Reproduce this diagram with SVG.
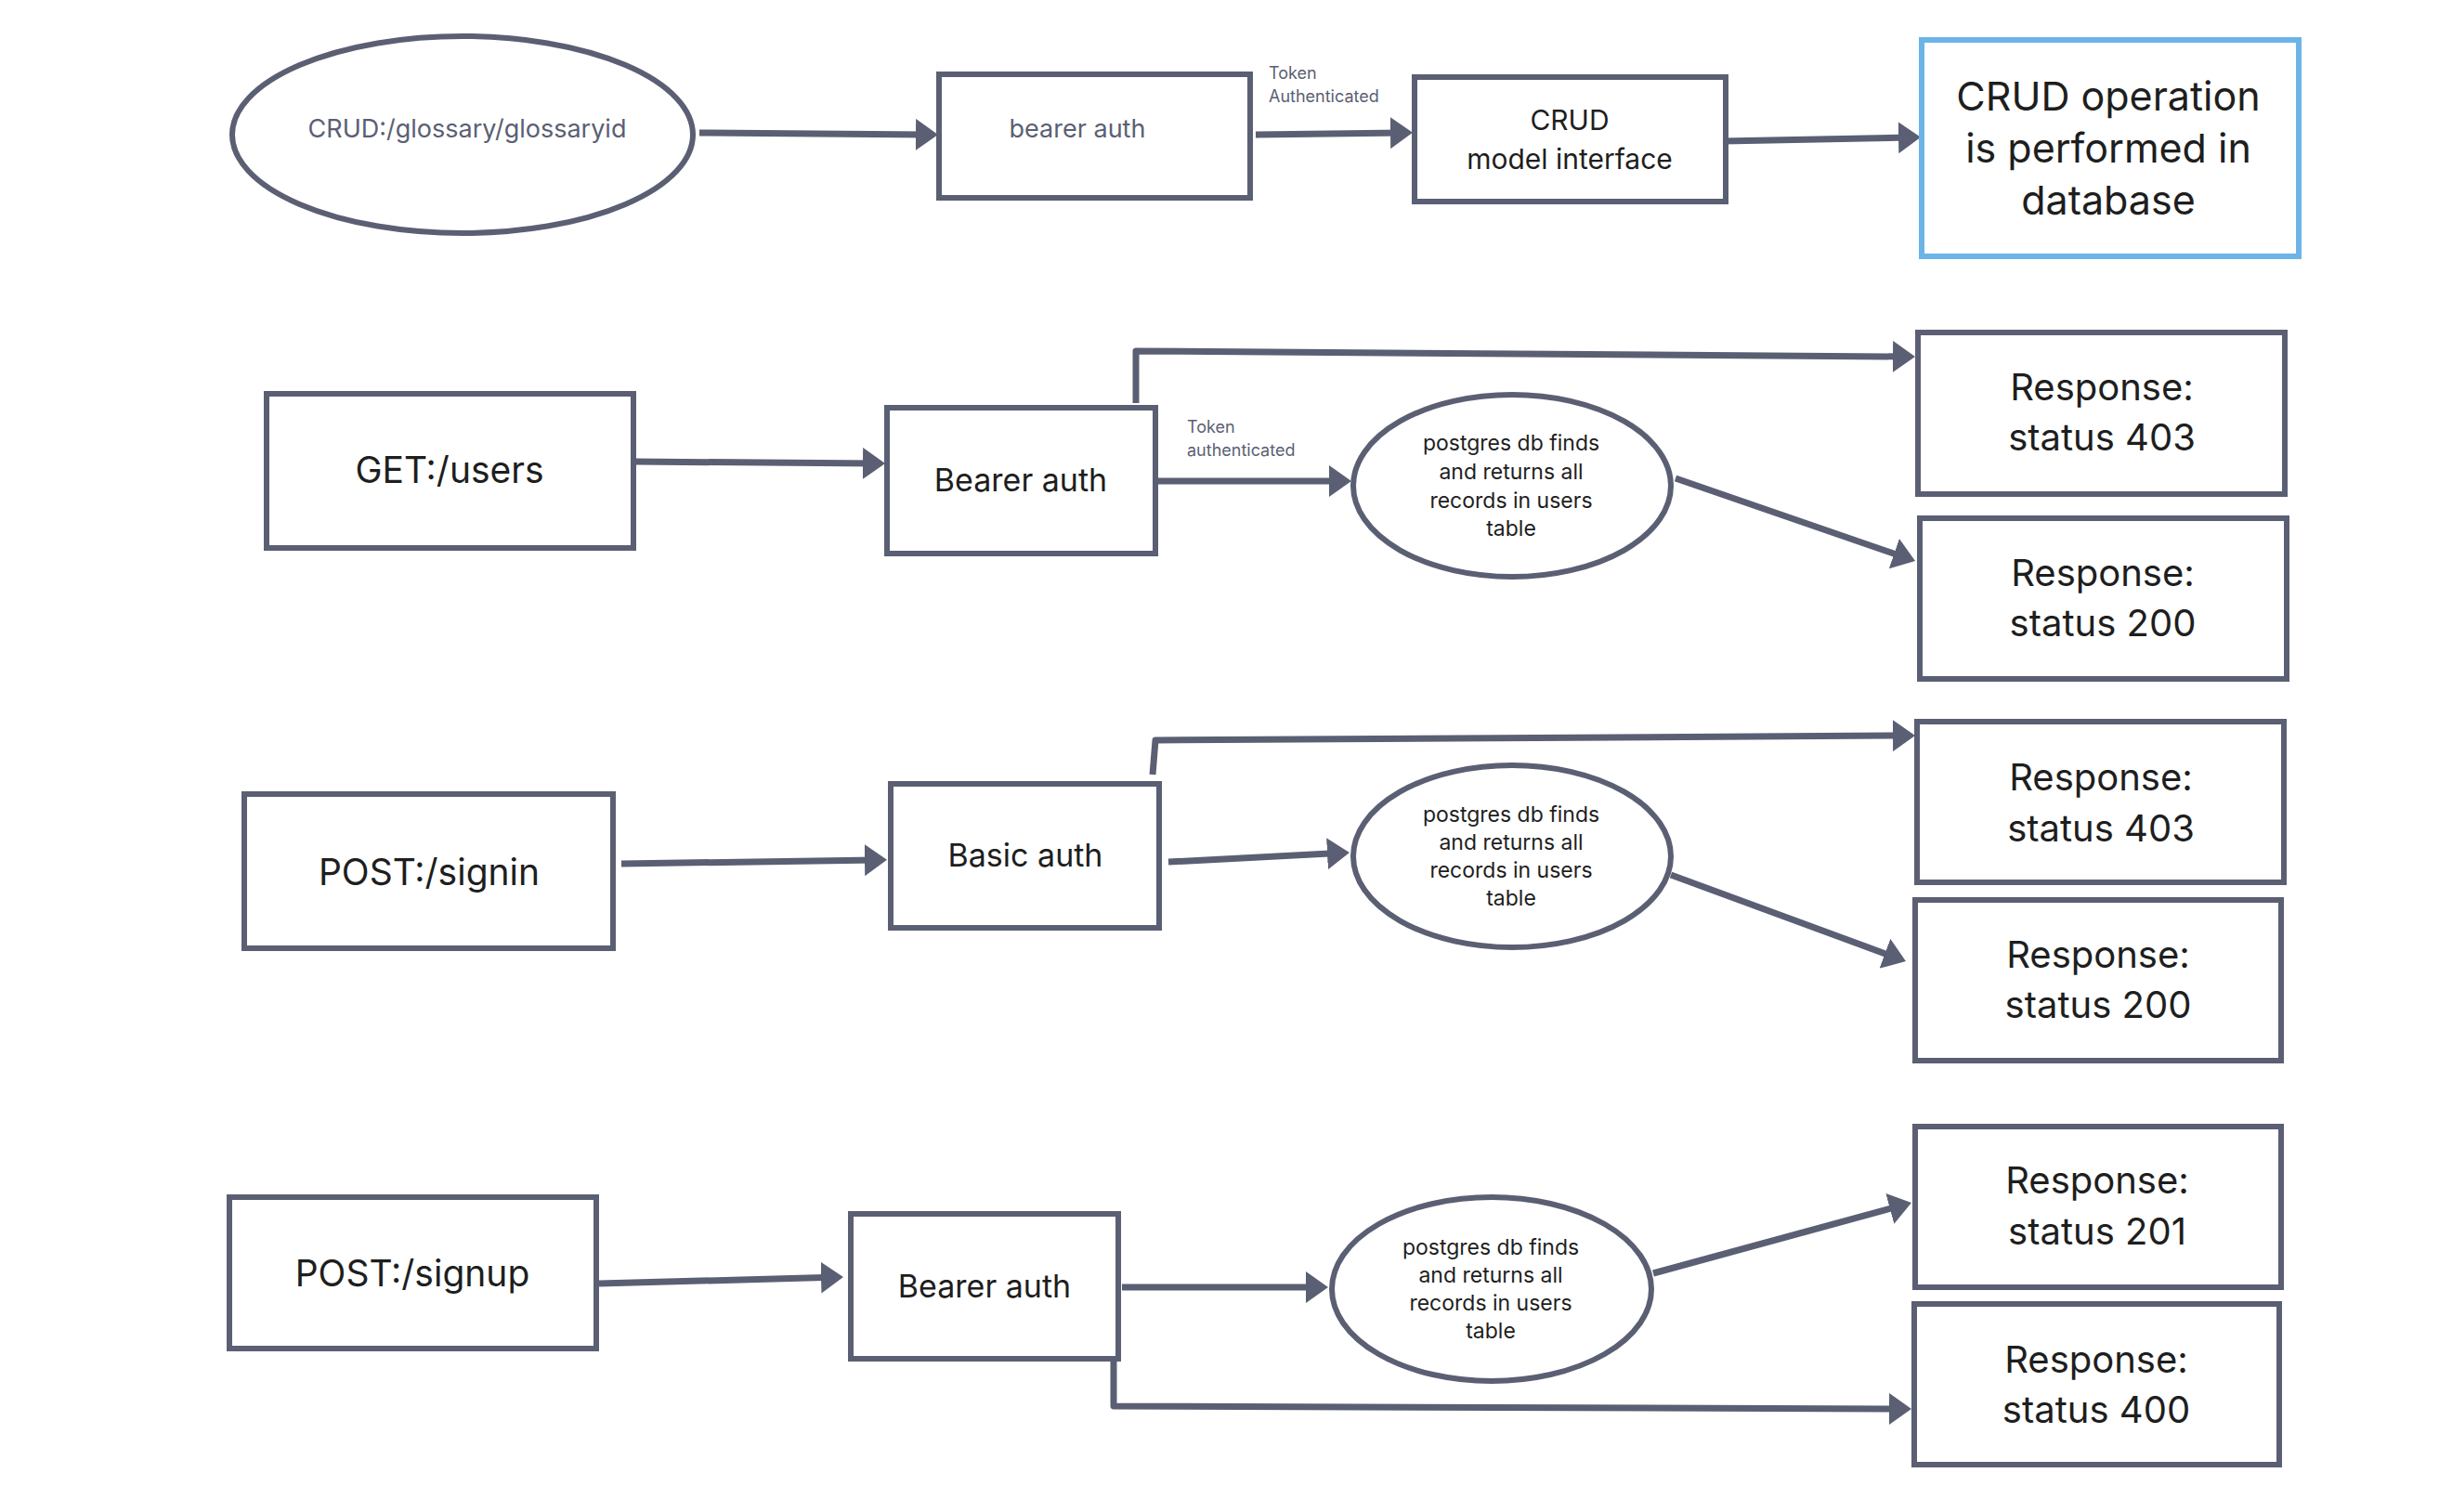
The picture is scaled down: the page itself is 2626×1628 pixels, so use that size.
<svg xmlns="http://www.w3.org/2000/svg" width="2626" height="1628" viewBox="0 0 2626 1628">
<defs>
<style>
.box{fill:#ffffff;stroke:#5b5f73;stroke-width:6}
.blue{fill:#ffffff;stroke:#6cb4e8;stroke-width:6}
.ell{fill:#ffffff;stroke:#5b5f73;stroke-width:6}
.con{fill:none;stroke:#5b5f73;stroke-width:7;stroke-linejoin:round;marker-end:url(#ah)}
text{font-family:Inter,"Liberation Sans",sans-serif;text-anchor:middle;fill:#1e1e1e}
.gray{fill:#5b5f73}
.lbl{font-size:18px;fill:#5b5f73;text-anchor:start}
.t27{font-size:27px}
.t30{font-size:30px}
.t43{font-size:43px}
.t39{font-size:39px}
.t34{font-size:34px}
.t23{font-size:23px}
.t40{font-size:40px}
</style>
<marker id="ah" markerUnits="userSpaceOnUse" markerWidth="24" markerHeight="34" viewBox="0 0 24 34" refX="12" refY="17" orient="auto">
<path d="M0,0 L24,17 L0,34 Z" fill="#5b5f73"/>
</marker>
</defs>
<rect width="2626" height="1628" fill="#ffffff"/>

<g id="connectors">
<line class="con" x1="753" y1="143" x2="998" y2="145"/>
<line class="con" x1="1352" y1="145" x2="1509" y2="143"/>
<line class="con" x1="1855" y1="152" x2="2056" y2="148"/>
<line class="con" x1="683" y1="497" x2="941" y2="499"/>
<polyline class="con" points="1223,434 1223,378 2050,384"/>
<line class="con" x1="1246" y1="518" x2="1443" y2="518"/>
<line class="con" x1="1804" y1="515" x2="2050.7" y2="600.1"/>
<line class="con" x1="669" y1="930" x2="943" y2="926"/>
<polyline class="con" points="1241,834 1244,797 2050,792"/>
<line class="con" x1="1258" y1="928" x2="1441" y2="918.6"/>
<line class="con" x1="1799" y1="942" x2="2040.7" y2="1030.9"/>
<line class="con" x1="645" y1="1382" x2="896" y2="1375.3"/>
<line class="con" x1="1208" y1="1386" x2="1418" y2="1386"/>
<line class="con" x1="1780" y1="1371" x2="2046.4" y2="1298.2"/>
<polyline class="con" points="1199,1464 1199,1514 2046,1517"/>
<text class="lbl" x="1366" y="85">Token</text>
<text class="lbl" x="1366" y="110">Authenticated</text>
<text class="lbl" x="1278" y="466">Token</text>
<text class="lbl" x="1278" y="491">authenticated</text>
</g>

<g id="crud-glossary">
<ellipse class="ell" cx="498" cy="145" rx="248" ry="106"/>
<text class="t27 gray" x="503" y="148">CRUD:/glossary/glossaryid</text>
</g>
<g id="bearer-auth-1">
<rect class="box" x="1011" y="80" width="335" height="133"/>
<text class="t27 gray" x="1160" y="148">bearer auth</text>
</g>
<g id="crud-model-interface">
<rect class="box" x="1523" y="83" width="335" height="134"/>
<text class="t30" x="1690" y="140">CRUD</text>
<text class="t30" x="1690" y="182">model interface</text>
</g>
<g id="crud-db">
<rect class="blue" x="2069" y="43" width="406" height="233"/>
<text class="t43" x="2270" y="119">CRUD operation</text>
<text class="t43" x="2270" y="175">is performed in</text>
<text class="t43" x="2270" y="231">database</text>
</g>

<g id="get-users">
<rect class="box" x="287" y="424" width="395" height="166"/>
<text class="t39" x="484" y="520">GET:/users</text>
</g>
<g id="bearer-auth-2">
<rect class="box" x="955" y="439" width="289" height="157"/>
<text class="t34" x="1099" y="529">Bearer auth</text>
</g>
<g id="postgres-1">
<ellipse class="ell" cx="1628" cy="523" rx="171" ry="98"/>
<text class="t23" x="1627" y="485">postgres db finds</text>
<text class="t23" x="1627" y="516">and returns all</text>
<text class="t23" x="1627" y="547">records in users</text>
<text class="t23" x="1627" y="577">table</text>
</g>
<g id="resp-403-1">
<rect class="box" x="2065" y="358" width="395" height="174"/>
<text class="t40" x="2263" y="431">Response:</text>
<text class="t40" x="2263" y="485">status 403</text>
</g>
<g id="resp-200-1">
<rect class="box" x="2067" y="558" width="395" height="173"/>
<text class="t40" x="2264" y="631">Response:</text>
<text class="t40" x="2264" y="685">status 200</text>
</g>

<g id="post-signin">
<rect class="box" x="263" y="855" width="397" height="166"/>
<text class="t39" x="462" y="953">POST:/signin</text>
</g>
<g id="basic-auth">
<rect class="box" x="959" y="844" width="289" height="155"/>
<text class="t34" x="1104" y="933">Basic auth</text>
</g>
<g id="postgres-2">
<ellipse class="ell" cx="1628" cy="922" rx="171" ry="98"/>
<text class="t23" x="1627" y="885">postgres db finds</text>
<text class="t23" x="1627" y="915">and returns all</text>
<text class="t23" x="1627" y="945">records in users</text>
<text class="t23" x="1627" y="975">table</text>
</g>
<g id="resp-403-2">
<rect class="box" x="2064" y="777" width="395" height="173"/>
<text class="t40" x="2262" y="851">Response:</text>
<text class="t40" x="2262" y="906">status 403</text>
</g>
<g id="resp-200-2">
<rect class="box" x="2062" y="969" width="394" height="173"/>
<text class="t40" x="2259" y="1042">Response:</text>
<text class="t40" x="2259" y="1096">status 200</text>
</g>

<g id="post-signup">
<rect class="box" x="247" y="1289" width="395" height="163"/>
<text class="t39" x="444" y="1385">POST:/signup</text>
</g>
<g id="bearer-auth-3">
<rect class="box" x="916" y="1307" width="288" height="156"/>
<text class="t34" x="1060" y="1397">Bearer auth</text>
</g>
<g id="postgres-3">
<ellipse class="ell" cx="1606" cy="1388" rx="172" ry="99"/>
<text class="t23" x="1605" y="1351">postgres db finds</text>
<text class="t23" x="1605" y="1381">and returns all</text>
<text class="t23" x="1605" y="1411">records in users</text>
<text class="t23" x="1605" y="1441">table</text>
</g>
<g id="resp-201">
<rect class="box" x="2062" y="1213" width="394" height="173"/>
<text class="t40" x="2258" y="1285">Response:</text>
<text class="t40" x="2258" y="1340">status 201</text>
</g>
<g id="resp-400">
<rect class="box" x="2061" y="1404" width="393" height="173"/>
<text class="t40" x="2257" y="1478">Response:</text>
<text class="t40" x="2257" y="1532">status 400</text>
</g>
</svg>
